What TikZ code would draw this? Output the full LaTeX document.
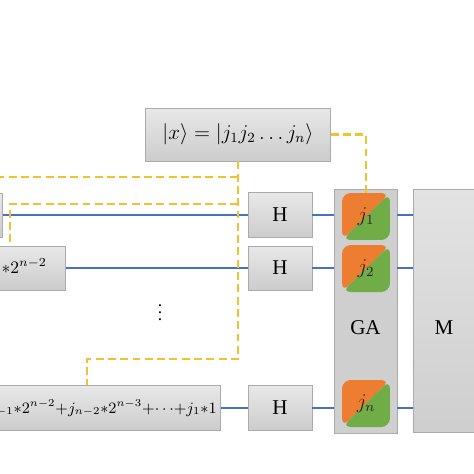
\documentclass[tikz,border=0pt]{standalone}
\usepackage{amsmath,amssymb}
\usepackage{fontspec}
\setmainfont{Liberation Serif}
\usepackage{tikz}
\usetikzlibrary{calc}
\definecolor{qblue}{HTML}{4472C4}
\definecolor{qgold}{HTML}{F2C12E}
\definecolor{qorange}{HTML}{ED7D31}
\definecolor{qgreen}{HTML}{70AD47}
\definecolor{qedge}{HTML}{ABABAB}
\tikzset{
  gatebox/.style = {draw=qedge, top color=gray!18, bottom color=gray!40, inner sep=0pt},
  wire/.style = {qblue, line width=1.3pt},
  link/.style = {qgold, line width=1.3pt, dash pattern=on 4.5pt off 2.5pt},
  tile/.style = {rounded corners=5pt, minimum width=0.96cm, minimum height=0.94cm,
    inner sep=0pt, font=\large, text=black!85,
    path picture={
      \fill [qorange] (path picture bounding box.south west) -- (path picture bounding box.north west)
        -- (path picture bounding box.north east) -- cycle;
      \fill [qgreen] (path picture bounding box.south west) -- (path picture bounding box.north east)
        -- (path picture bounding box.south east) -- cycle;}},
  gatetext/.style = {font=\fontsize{12}{14}\selectfont}
}

\begin{document}
\begin{tikzpicture}[x=0.02cm, y=-0.02cm]
  \useasboundingbox (0,0) rectangle (474,474);
  \node [gatebox, minimum width=3.7cm, minimum height=1.06cm, font=\large] (X) at (238,134.5) {$|x\rangle = |j_1 j_2 \ldots j_n\rangle$};
  \node [gatebox, anchor=east, minimum width=3cm, minimum height=0.88cm] (S1) at (3,215) {};
  \node [gatebox, anchor=east, minimum height=0.88cm, inner xsep=0.38cm] (S2) at (66,268) {$j_n{*}2^{n-1}{+}j_{n-1}{*}2^{n-2}$};
  \node [gatebox, anchor=east, minimum height=0.9cm, inner xsep=0.08cm, font=\fontsize{9}{11}\selectfont] (Sn) at (221,408) {$j_n{*}2^{n-1}{+}j_{n-1}{*}2^{n-2}{+}j_{n-2}{*}2^{n-3}{+}{\cdots}{+}j_1{*}1$};
  \node [gatebox, gatetext, minimum width=1.28cm, minimum height=0.9cm] (H1) at (280,215) {H};
  \node [gatebox, gatetext, minimum width=1.28cm, minimum height=0.88cm] (H2) at (280,268) {H};
  \node [gatebox, gatetext, minimum width=1.28cm, minimum height=0.9cm] (Hn) at (280,408) {H};
  \node [draw=qedge, fill=gray!38, minimum width=1.26cm, minimum height=4.88cm] (GA) at (365.5,311) {};
  \node [gatebox, top color=gray!22, bottom color=gray!38, minimum width=1.3cm, minimum height=4.86cm] (M) at (446,310.5) {};
  \node [gatetext] (GAtext) at (365.5,328) {GA};
  \node [gatetext] (Mtext) at (444,328) {M};
  \node [tile] (T1) at (366,216.5) {$j_1$};
  \node [tile] (T2) at (366,268.5) {$j_2$};
  \node [tile] (Tn) at (366,403.5) {$j_n$};
  \node (Dots) at (160,307) {$\vdots$};
  \draw [wire] (S1.east) -- (H1.west);
  \draw [wire] (S2.east) -- (H2.west);
  \draw [wire, line width=0.8pt] (Sn.east) -- (Hn.west);
  \draw [wire] (H1.east) -- (H1.east -| GA.west);
  \draw [wire] (H2.east) -- (H2.east -| GA.west);
  \draw [wire, line width=0.8pt] (Hn.east) -- (Hn.east -| GA.west);
  \draw [wire] (GA.east |- H1) -- (M.west |- H1);
  \draw [wire] (GA.east |- H2) -- (M.west |- H2);
  \draw [wire, line width=0.8pt] (GA.east |- Hn) -- (M.west |- Hn);
  \coordinate (Far) at (-10,177);
  \coordinate (Drop) at (10,204);
  \coordinate (Bend) at (87,359);
  \draw [link] (X.east) -| (T1.north);
  \draw [link] (X.south) |- (Bend) -- (Bend |- Sn.north);
  \draw [link] (X.south |- Far) -- (Far);
  \draw [link] (X.south |- Drop) -- (Drop) -- (Drop |- S2.north);
\end{tikzpicture}
\end{document}
